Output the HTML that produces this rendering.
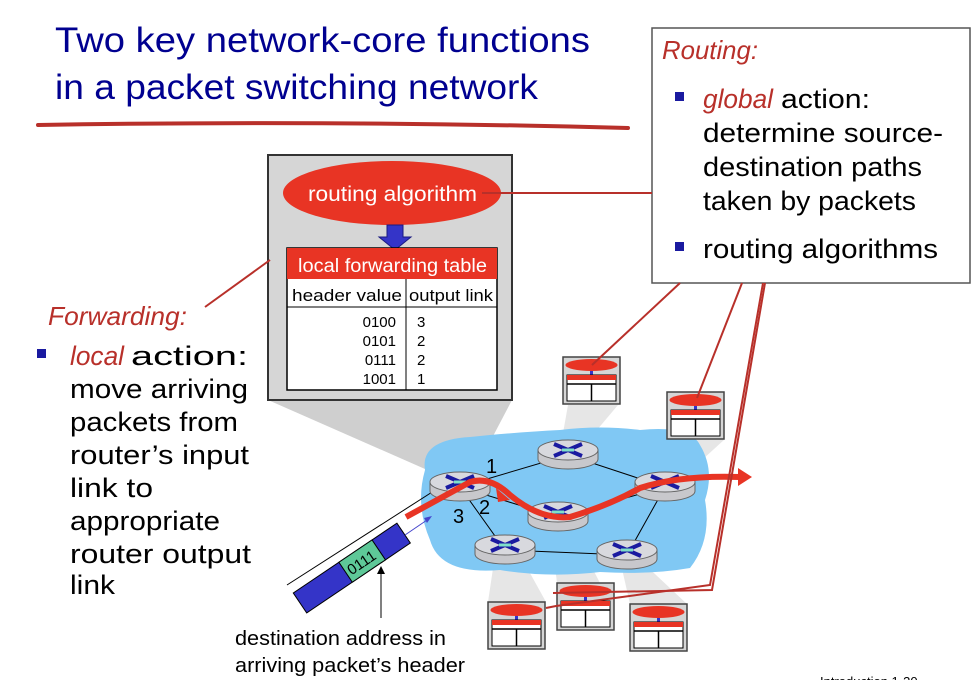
<!DOCTYPE html>
<html><head><meta charset="utf-8"><style>
body{margin:0;background:#fff}
svg{display:block;font-family:"Liberation Sans",sans-serif}
</style></head><body>
<svg width="978" height="680" viewBox="0 0 978 680" xmlns="http://www.w3.org/2000/svg">
<defs>
<g id="rt">
<path d="M-30,0 v9 a30,10 0 0 0 60,0 v-9" fill="#c8c8cc" stroke="#666" stroke-width="1"/>
<ellipse cx="0" cy="0" rx="30" ry="10" fill="#d8d9de" stroke="#666" stroke-width="1"/>
<path d="M-14,-6 L14,6 M-14,6 L14,-6" stroke="#1a1aa0" stroke-width="4"/>
<path d="M-6,0 L6,0" stroke="#7fe0c8" stroke-width="3"/>
</g>
<g id="tb">
<rect x="0" y="0" width="57" height="47" fill="#d6d6d6" stroke="#444" stroke-width="1.5"/>
<ellipse cx="28.5" cy="8" rx="26" ry="6" fill="#e83424"/>
<path d="M28.5,14 v4" stroke="#33c" stroke-width="3"/>
<rect x="4" y="18" width="49" height="26" fill="#fff" stroke="#000"/>
<rect x="4" y="18" width="49" height="5" fill="#e83424"/>
<path d="M4,27 h49 M28.5,27 v17" stroke="#000" stroke-width="1.5"/>
</g>
</defs>

<text x="55" y="52" font-size="35" fill="#000090" textLength="535" lengthAdjust="spacingAndGlyphs">Two key network-core functions</text>
<text x="55" y="99" font-size="35" fill="#000090" textLength="483" lengthAdjust="spacingAndGlyphs">in a packet switching network</text>
<path d="M38,125 Q330,120 628,128" stroke="#b8302a" stroke-width="4" fill="none" stroke-linecap="round"/>

<!-- cones -->
<polygon points="268,400 512,400 470,480 450,480" fill="#cfcfcf"/>
<polygon points="568,405 618,405 580,450 560,450" fill="#e6e6e6"/>
<polygon points="670,439 725,439 680,480 665,480" fill="#e6e6e6"/>
<polygon points="495,555 520,555 546,602 488,602" fill="#e6e6e6"/>
<polygon points="550,525 570,525 600,583 557,583" fill="#e6e6e6"/>
<polygon points="620,560 640,560 687,604 630,604" fill="#e6e6e6"/>

<!-- cloud -->
<path d="M425,470 Q420,440 470,437 Q520,432 560,430 Q600,425 640,430 Q690,425 700,445 Q715,470 705,500 Q712,540 690,568 Q650,575 600,572 Q550,578 500,570 Q440,575 430,540 Q415,505 425,470Z" fill="#80c8f4"/>

<!-- gray box -->
<rect x="268" y="155" width="244" height="245" fill="#d6d6d6" stroke="#333" stroke-width="2"/>
<ellipse cx="392" cy="193" rx="109" ry="32" fill="#e83424"/>
<text x="308" y="201" font-size="21" fill="#fff" textLength="169" lengthAdjust="spacingAndGlyphs">routing algorithm</text>
<polygon points="387,225 403,225 403,237 411,237 395,250 379,237 387,237" fill="#3434c8" stroke="#1a1a80" stroke-width="1"/>
<rect x="287" y="248" width="210" height="142" fill="#fff" stroke="#000" stroke-width="1.5"/>
<rect x="287" y="248" width="210" height="31" fill="#e83424"/>
<text x="298" y="272" font-size="19" fill="#fff" textLength="189" lengthAdjust="spacingAndGlyphs">local forwarding table</text>
<path d="M287,307 h210 M406,279 v111" stroke="#000" stroke-width="1"/>
<text x="292" y="301" font-size="17" textLength="110" lengthAdjust="spacingAndGlyphs">header value</text>
<text x="409" y="301" font-size="17" textLength="84" lengthAdjust="spacingAndGlyphs">output link</text>
<g font-size="15" text-anchor="end">
<text x="396" y="327">0100</text><text x="396" y="346">0101</text><text x="396" y="365">0111</text><text x="396" y="384">1001</text></g>
<g font-size="15"><text x="417" y="327">3</text><text x="417" y="346">2</text><text x="417" y="365">2</text><text x="417" y="384">1</text></g>

<!-- links -->
<g stroke="#000" stroke-width="1" fill="none">
<path d="M460,487 L568,455 L665,487 L627,555 L505,550 L460,487 M460,487 L558,517 L665,487"/>
<path d="M287,585 L440,487"/>
</g>
<use href="#rt" x="568" y="450"/>
<use href="#rt" x="460" y="482"/>
<use href="#rt" x="665" y="482"/>
<use href="#rt" x="558" y="512"/>
<use href="#rt" x="505" y="545"/>
<use href="#rt" x="627" y="550"/>
<text x="486" y="473" font-size="20">1</text>
<text x="479" y="514" font-size="20">2</text>
<text x="453" y="523" font-size="20">3</text>

<!-- red path -->
<path d="M406,517 L470,482 Q490,476 510,495 Q540,520 570,517 Q610,505 640,488 Q680,475 740,477" stroke="#e83424" stroke-width="6" fill="none"/>
<polygon points="738,468 752,477 738,486" fill="#e83424"/>
<polygon points="496,488 510,500 498,502" fill="#e83424"/>

<!-- packet -->
<g transform="translate(300,603) rotate(-34)">
<rect x="0" y="-12" width="125" height="24" fill="#3434c8" stroke="#000"/>
<rect x="55" y="-12" width="40" height="24" fill="#5ec898" stroke="#000"/>
<text x="58" y="6" font-size="15" fill="#000">0111</text>
</g>
<path d="M405,535 L430,518" stroke="#4444cc" stroke-width="1"/>
<polygon points="432,516 424,518 427,523" fill="#4444cc"/>
<path d="M381,618 V572" stroke="#000" stroke-width="1"/>
<polygon points="377,574 381,566 385,574" fill="#000"/>

<!-- small tables -->
<use href="#tb" x="563" y="357"/>
<use href="#tb" x="667" y="392"/>
<use href="#tb" x="488" y="602"/>
<use href="#tb" x="557" y="583"/>
<use href="#tb" x="630" y="604"/>

<!-- routing box -->
<rect x="652" y="28" width="318" height="255" fill="#fff" stroke="#555" stroke-width="1.5"/>
<g stroke="#b8302a" stroke-width="2" fill="none">
<path d="M482,193 H652"/>
<path d="M680,283 L592,365"/>
<path d="M742,283 L697,398"/>
<path d="M765,283 L712,590 L553,593"/>
<path d="M763,283 L710,585 L556,606 L546,608"/>
<path d="M270,260 L205,307"/>
</g>
<text x="662" y="59" font-size="26" font-style="italic" fill="#b8302a" textLength="96" lengthAdjust="spacingAndGlyphs">Routing:</text>
<g font-size="27" fill="#000">
<rect x="675" y="92" width="9" height="9" fill="#1a1aa0"/>
<text x="703" y="108" fill="#b8302a" font-style="italic" textLength="70" lengthAdjust="spacingAndGlyphs">global</text>
<text x="781" y="108" textLength="89" lengthAdjust="spacingAndGlyphs">action:</text>
<text x="703" y="142" textLength="240" lengthAdjust="spacingAndGlyphs">determine source-</text>
<text x="703" y="176" textLength="219" lengthAdjust="spacingAndGlyphs">destination paths</text>
<text x="703" y="210" textLength="213" lengthAdjust="spacingAndGlyphs">taken by packets</text>
<rect x="675" y="242" width="9" height="9" fill="#1a1aa0"/>
<text x="703" y="258" textLength="235" lengthAdjust="spacingAndGlyphs">routing algorithms</text>
</g>

<text x="48" y="325" font-size="26" font-style="italic" fill="#b8302a" textLength="139" lengthAdjust="spacingAndGlyphs">Forwarding:</text>
<g font-size="27" fill="#000">
<rect x="37" y="349" width="9" height="9" fill="#1a1aa0"/>
<text x="70" y="365" fill="#b8302a" font-style="italic" textLength="54" lengthAdjust="spacingAndGlyphs">local</text>
<text x="131" y="365" textLength="117" lengthAdjust="spacingAndGlyphs">action:</text>
<text x="70" y="398" textLength="178" lengthAdjust="spacingAndGlyphs">move arriving</text>
<text x="70" y="431" textLength="168" lengthAdjust="spacingAndGlyphs">packets from</text>
<text x="70" y="464" textLength="179" lengthAdjust="spacingAndGlyphs">router’s input</text>
<text x="70" y="497" textLength="83" lengthAdjust="spacingAndGlyphs">link to</text>
<text x="70" y="530" textLength="150" lengthAdjust="spacingAndGlyphs">appropriate</text>
<text x="70" y="563" textLength="181" lengthAdjust="spacingAndGlyphs">router output</text>
<text x="70" y="594" textLength="45" lengthAdjust="spacingAndGlyphs">link</text>
</g>
<text x="235" y="645" font-size="20" textLength="211" lengthAdjust="spacingAndGlyphs">destination address in</text>
<text x="235" y="672" font-size="20" textLength="230" lengthAdjust="spacingAndGlyphs">arriving packet’s header</text>
<text x="820" y="686" font-size="13">Introduction 1-30</text>
</svg>
</body></html>
